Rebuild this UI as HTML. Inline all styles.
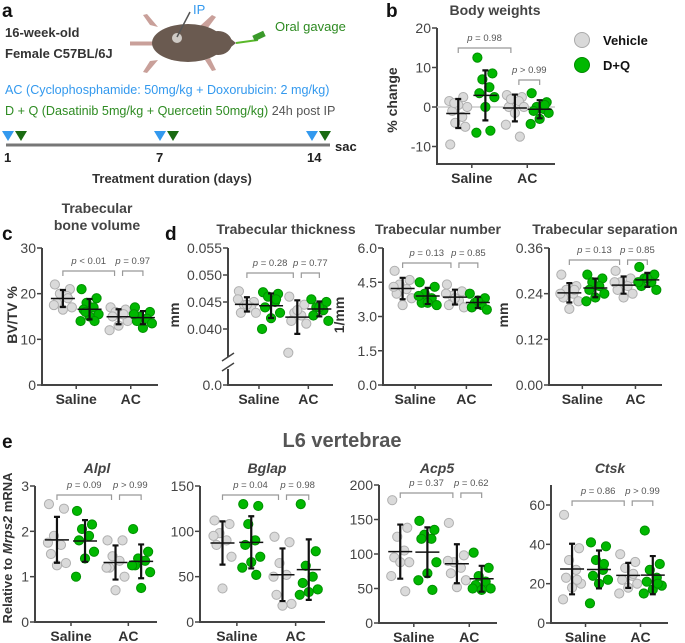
<!DOCTYPE html>
<html><head><meta charset="utf-8"><style>
html,body{margin:0;padding:0;background:#fff;}
svg{display:block;font-family:"Liberation Sans",Arial,sans-serif;}
</style></head><body>
<svg id="fig" width="685" height="643" viewBox="0 0 685 643" xmlns="http://www.w3.org/2000/svg">
<g>
<text x="2" y="17" font-size="19" font-weight="bold" fill="#111">a</text>
<text x="5" y="37" font-size="13" font-weight="bold" fill="#333">16-week-old</text>
<text x="5" y="58" font-size="13" font-weight="bold" fill="#333">Female C57BL/6J</text>
<g>
<rect x="130" y="41.5" width="25" height="4" fill="#c9a09a"/>
<path d="M150 25 L143 15 L147 14 L158 27 Z M150 61 L143 72 L147 73 L158 60 Z M200 26 L212 15 L216 17 L207 29 Z M205 60 L212 71 L216 70 L210 58 Z" fill="#c9a09a"/>
<ellipse cx="188" cy="43" rx="36" ry="19" fill="#6a5a50"/>
<ellipse cx="218" cy="43" rx="14" ry="12" fill="#6a5a50"/>
<path d="M226 35 L236 43 L226 51 Z" fill="#6a5a50"/>
<circle cx="177" cy="38" r="5" fill="#cfcac5"/>
<line x1="177" y1="37" x2="190" y2="12" stroke="#555" stroke-width="1.5"/>
<line x1="236" y1="43" x2="258" y2="40" stroke="#5ab82a" stroke-width="2"/>
<rect x="253" y="33" width="12" height="6" fill="#3a9a2a" transform="rotate(-25 259 36)"/>
</g>
<text x="193" y="14" font-size="13" fill="#3399ee">IP</text>
<text x="275" y="31" font-size="13" fill="#2e8b22">Oral gavage</text>
<text x="5" y="94" font-size="12.6" fill="#3399ee">AC (Cyclophosphamide: 50mg/kg + Doxorubicin: 2 mg/kg)</text>
<text x="5" y="115" font-size="12.6" fill="#2e8b22">D + Q (Dasatinib 5mg/kg + Quercetin 50mg/kg) <tspan fill="#555">24h post IP</tspan></text>
<line x1="6" y1="145" x2="330" y2="145" stroke="#777" stroke-width="3"/>
<g id="tri"></g>
<text x="4" y="162" font-size="13" font-weight="bold" fill="#222">1</text>
<text x="156" y="162" font-size="13" font-weight="bold" fill="#222">7</text>
<text x="307" y="162" font-size="13" font-weight="bold" fill="#222">14</text>
<text x="335" y="151" font-size="13" font-weight="bold" fill="#222">sac</text>
<text x="172" y="183" font-size="13" font-weight="bold" fill="#333" text-anchor="middle">Treatment duration (days)</text>
</g>
<text x="386" y="17" font-size="19" font-weight="bold" fill="#111">b</text>
<text x="2" y="240" font-size="19" font-weight="bold" fill="#111">c</text>
<text x="165" y="240" font-size="19" font-weight="bold" fill="#111">d</text>
<text x="2" y="448" font-size="19" font-weight="bold" fill="#111">e</text>
<text x="342" y="447" font-size="20" font-weight="bold" fill="#555" text-anchor="middle">L6 vertebrae</text>
<g>
<circle cx="582" cy="40" r="7.5" fill="#d9d9d9" stroke="#aaa"/>
<text x="603" y="45" font-size="13" font-weight="bold" fill="#111">Vehicle</text>
<circle cx="582" cy="65" r="7.5" fill="#00b800" stroke="#008a00"/>
<text x="603" y="70" font-size="13" font-weight="bold" fill="#111">D+Q</text>
</g>
<text x="12" y="548" font-size="13" font-weight="bold" fill="#333" text-anchor="middle" transform="rotate(-90 12 548)">Relative to <tspan font-style="italic">Mrps2</tspan> mRNA</text>
</svg>
<script>
// Data: [vehicle-saline, DQ-saline, vehicle-AC, DQ-AC]
const categories = ["Saline", "AC"];
const bodyWeight = [[-9.5,-5,-4,-2.5,-1,0,0.5,1.5,2.5,1],[12.5,8.5,7,5,3.5,2.5,0,-6.5,-6],[3,2.5,2,1.5,0,0,-1.5,-4.5,-7.5,2],[3.5,1.2,0,-0.5,-1,-1.5,-3,-4.3,0.5]];
const bvtv = [[22,21,20,19.5,18,17,16.5,17.5,19],[21,19,18,17,16.5,15.5,15,14,14,16],[17,16.5,16,15.5,15,14,13,12,15.5],[17,16,15,14.5,14,13.5,12.5,15.5]];
const thickness = [[0.047,0.045,0.0445,0.044,0.043,0.043,0.0445,0.0455],[0.0468,0.0465,0.046,0.045,0.044,0.043,0.042,0.040,0.0455],[0.046,0.0445,0.043,0.0425,0.0415,0.041,0.0435,0.0356],[0.0455,0.045,0.044,0.0435,0.0425,0.0415,0.044]];
const tbNumber = [[5.0,4.6,4.4,4.2,4.0,3.8,3.5,4.3],[4.5,4.3,4.0,3.8,3.6,3.5,3.6,3.9],[4.4,4.1,3.9,3.7,3.5,3.4,3.8,4.0],[4.0,3.8,3.6,3.5,3.4,3.3,3.7]];
const tbSeparation = [[0.29,0.26,0.25,0.24,0.23,0.22,0.20,0.24,0.25],[0.29,0.28,0.27,0.26,0.25,0.24,0.23,0.22],[0.30,0.28,0.27,0.26,0.25,0.24,0.23,0.27],[0.31,0.29,0.28,0.27,0.26,0.25,0.28,0.27]];
const alpl = [[2.6,2.5,1.9,1.7,1.5,1.3,1.25,1.75],[2.45,2.15,2.05,1.9,1.8,1.55,1.4,1.0],[1.8,1.8,1.45,1.35,1.2,1.0,0.7,1.2],[2.05,1.55,1.4,1.35,1.25,1.1,0.75,1.25]];
const bglap = [[112,108,98,90,85,72,37,95],[130,128,108,90,85,72,66,60,52],[94,88,65,52,30,20,18,50],[130,78,62,50,43,36,33,30]];
const acp5 = [[178,138,125,105,95,88,88,68,46],[148,135,128,122,122,88,72,62,48],[145,98,88,80,72,62,52,90],[102,80,68,60,55,50,48,50]];
const ctsk = [[55,38,32,27,23,20,18,12,22],[41,39,32,27,24,22,20,10,30],[35,31,28,24,22,20,18,15,25],[47,30,27,23,21,19,17,15,20]];
const bTicks = [-10,0,10,20];
const cTicks = [0,10,20,30];
const dTicks = [0.040,0.045,0.050,0.055];
const nTicks = [0.0,1.5,3.0,4.5,6.0];
const sTicks = [0.00,0.12,0.24,0.36];
const alplTicks = [0,1,2,3];
const bglapTicks = [0,50,100,150];
const acp5Ticks = [0,50,100,150,200];
const ctskTicks = [0,20,40,60];
const pvalues = {b:["= 0.98","> 0.99"],c:["< 0.01","= 0.97"],d:["= 0.28","= 0.77"],n:["= 0.13","= 0.85"],s:["= 0.13","= 0.85"],alpl:["= 0.09","> 0.99"],bglap:["= 0.04","= 0.98"],acp5:["= 0.37","= 0.62"],ctsk:["= 0.86","> 0.99"]};

const NS="http://www.w3.org/2000/svg";
const fig=document.getElementById('fig');
function mk(tag,attrs,parent){const e=document.createElementNS(NS,tag);for(const k in attrs)e.setAttribute(k,attrs[k]);(parent||fig).appendChild(e);return e;}

const tri=document.getElementById('tri');
[[8,"#3399ee"],[21,"#1a6b12"],[160,"#3399ee"],[173,"#1a6b12"],[312,"#3399ee"],[325,"#1a6b12"]].forEach((t,i)=>{
  const p=mk('path',{d:`M${t[0]-6} 131 L${t[0]+6} 131 L${t[0]} 141 Z`,fill:t[1]},tri);
  
  
});

const jit=[-8,7,-3,4,-6,9,0,-9,5,-4];
function mean(a){return a.reduce((s,v)=>s+v,0)/a.length;}
function sd(a){const m=mean(a);return Math.sqrt(a.reduce((s,v)=>s+(v-m)*(v-m),0)/(a.length-1));}

function panel(o){
  const g=mk('g',{});
  
  
  const y=o.yScale;
  const xs=[0.18,0.41,0.66,0.87].map(f=>o.x0+f*(o.x1-o.x0));
  const ya=mk('line',{x1:o.x0,y1:o.top,x2:o.x0,y2:o.bottom,stroke:'#444','stroke-width':2},g);
  
  
  const xa=mk('line',{x1:o.x0-1,y1:o.bottom,x2:o.x1,y2:o.bottom,stroke:'#444','stroke-width':2},g);
  
  
  o.ticks.forEach(t=>{
    const ty=y(t);
    mk('line',{x1:o.x0-5,y1:ty,x2:o.x0,y2:ty,stroke:'#444','stroke-width':1.5},g);
    const tx=mk('text',{x:o.x0-6,y:ty+5,'font-size':14,fill:'#444','text-anchor':'end'},g);
    tx.textContent=o.fmt?o.fmt(t):String(t);
    
    
  });
  if(o.extraTick){const ty=o.bottom;
    const tx=mk('text',{x:o.x0-6,y:ty+5,'font-size':14,fill:'#444','text-anchor':'end'},g);tx.textContent=o.extraTick;
    
    
    mk('line',{x1:o.x0-5,y1:ty,x2:o.x0,y2:ty,stroke:'#444','stroke-width':1.5},g);
    mk('rect',{x:o.x0-6,y:o.breakY-6,width:12,height:12,fill:'#fff'},g);
    mk('line',{x1:o.x0-6,y1:o.breakY-2,x2:o.x0+6,y2:o.breakY-10,stroke:'#444','stroke-width':1.5},g);
    mk('line',{x1:o.x0-6,y1:o.breakY+8,x2:o.x0+6,y2:o.breakY,stroke:'#444','stroke-width':1.5},g);
  }
  if(o.zeroLine){mk('line',{x1:o.x0,y1:y(0),x2:o.x1,y2:y(0),stroke:'#ccc','stroke-width':1.5},g);}
  categories.forEach((c,i)=>{
    const cx=(xs[i*2]+xs[i*2+1])/2;
    mk('line',{x1:cx,y1:o.bottom,x2:cx,y2:o.bottom+4,stroke:'#444','stroke-width':1.5},g);
    const t=mk('text',{x:cx,y:o.bottom+19,'font-size':14,'font-weight':'bold',fill:'#333','text-anchor':'middle'},g);
    t.textContent=c;
    
    
  });
  o.title.forEach((tl,i)=>{
    const t=mk('text',{x:o.tx,y:o.ty+i*17,'font-size':14,'font-weight':'bold',fill:'#444','text-anchor':'middle','font-style':o.italic?'italic':'normal'},g);
    t.textContent=tl;
    
    
  });
  if(o.ylabel){
    const t=mk('text',{x:o.ylx,y:o.yly,'font-size':14,'font-weight':'bold',fill:'#333','text-anchor':'middle',transform:`rotate(-90 ${o.ylx} ${o.yly})`},g);
    t.textContent=o.ylabel;
    
    
  }
  o.data.forEach((arr,gi)=>{
    const green=gi%2===1;
    arr.forEach((v,i)=>{
      const c=mk('circle',{cx:xs[gi]+jit[i%jit.length],cy:y(v),r:4.6,fill:green?'#00b800':'#dadada',stroke:green?'#009000':'#b0b0b0','stroke-width':1},g);
      
      
    });
  });
  o.data.forEach((arr,gi)=>{
    const m=mean(arr),s=sd(arr),x=xs[gi];
    const ml=mk('line',{x1:x-12,y1:y(m),x2:x+12,y2:y(m),stroke:'#111','stroke-width':1.5},g);
    
    
    const eb=mk('path',{d:`M${x} ${y(m+s)} L${x} ${y(m-s)} M${x-3} ${y(m+s)} L${x+3} ${y(m+s)} M${x-3} ${y(m-s)} L${x+3} ${y(m-s)}`,stroke:'#111','stroke-width':2.2,fill:'none'},g);
    
    
  });
  const br=[[xs[0],xs[2]-4,o.b1],[xs[2]+4,xs[3],o.b2]];
  br.forEach((b,i)=>{
    const p=mk('path',{d:`M${b[0]} ${b[2]+5} L${b[0]} ${b[2]} L${b[1]} ${b[2]} L${b[1]} ${b[2]+5}`,stroke:'#999','stroke-width':1.2,fill:'none'},g);
    
    
    const t=mk('text',{x:(b[0]+b[1])/2,y:b[2]-7,'font-size':9.5,fill:'#555','text-anchor':'middle'},g);
    const ip=mk('tspan',{'font-style':'italic'},t);ip.textContent='p';
    const rest=mk('tspan',{},t);rest.textContent=' '+o.p[i];
    
    
  });
}
function lin(v0,p0,v1,p1){return v=>p0+(v-v0)*(p1-p0)/(v1-v0);}

panel({name:'body-weights-chart',x0:437,x1:555,top:28,bottom:164,yScale:lin(0,107,20,28),ticks:bTicks,data:bodyWeight,title:['Body weights'],tx:495,ty:15,ylabel:'% change',ylx:397,yly:100,b1:48,b2:80,p:pvalues.b,zeroLine:true});
panel({name:'bone-volume-chart',x0:42,x1:158,top:248,bottom:385,yScale:lin(0,385,30,248),ticks:cTicks,data:bvtv,title:['Trabecular','bone volume'],tx:97,ty:213,ylabel:'BV/TV %',ylx:17,yly:315,b1:271,b2:271,p:pvalues.c});
panel({name:'trabecular-thickness-chart',x0:228,x1:333,top:248,bottom:385,yScale:lin(0.040,329,0.055,248),ticks:dTicks,fmt:v=>v.toFixed(3),extraTick:'0.0',breakY:363,data:thickness,title:['Trabecular thickness'],tx:286,ty:234,ylabel:'mm',ylx:179,yly:315,b1:273,b2:273,p:pvalues.d});
panel({name:'trabecular-number-chart',x0:383,x1:492,top:248,bottom:385,yScale:lin(0,385,6,248),ticks:nTicks,fmt:v=>v.toFixed(1),data:tbNumber,title:['Trabecular number'],tx:438,ty:234,ylabel:'1/mm',ylx:344,yly:315,b1:263,b2:263,p:pvalues.n});
panel({name:'trabecular-separation-chart',x0:549,x1:662,top:248,bottom:385,yScale:lin(0,385,0.36,248),ticks:sTicks,fmt:v=>v.toFixed(2),data:tbSeparation,title:['Trabecular separation'],tx:605,ty:234,ylabel:'mm',ylx:508,yly:315,b1:260,b2:260,p:pvalues.s});
panel({name:'alpl-chart',x0:35,x1:157,top:486,bottom:622,yScale:lin(0,622,3,486),ticks:alplTicks,data:alpl,title:['Alpl'],italic:true,tx:97,ty:473,b1:495,b2:495,p:pvalues.alpl});
panel({name:'bglap-chart',x0:200,x1:325,top:486,bottom:622,yScale:lin(0,622,150,486),ticks:bglapTicks,data:bglap,title:['Bglap'],italic:true,tx:267,ty:473,b1:495,b2:495,p:pvalues.bglap});
panel({name:'acp5-chart',x0:379,x1:497,top:485,bottom:623,yScale:lin(0,623,200,485),ticks:acp5Ticks,data:acp5,title:['Acp5'],italic:true,tx:437,ty:473,b1:493,b2:493,p:pvalues.acp5});
panel({name:'ctsk-chart',x0:551,x1:668,top:485,bottom:623,yScale:lin(0,623,60,505),ticks:ctskTicks,data:ctsk,title:['Ctsk'],italic:true,tx:610,ty:473,b1:501,b2:501,p:pvalues.ctsk});
</script>
</body></html>
